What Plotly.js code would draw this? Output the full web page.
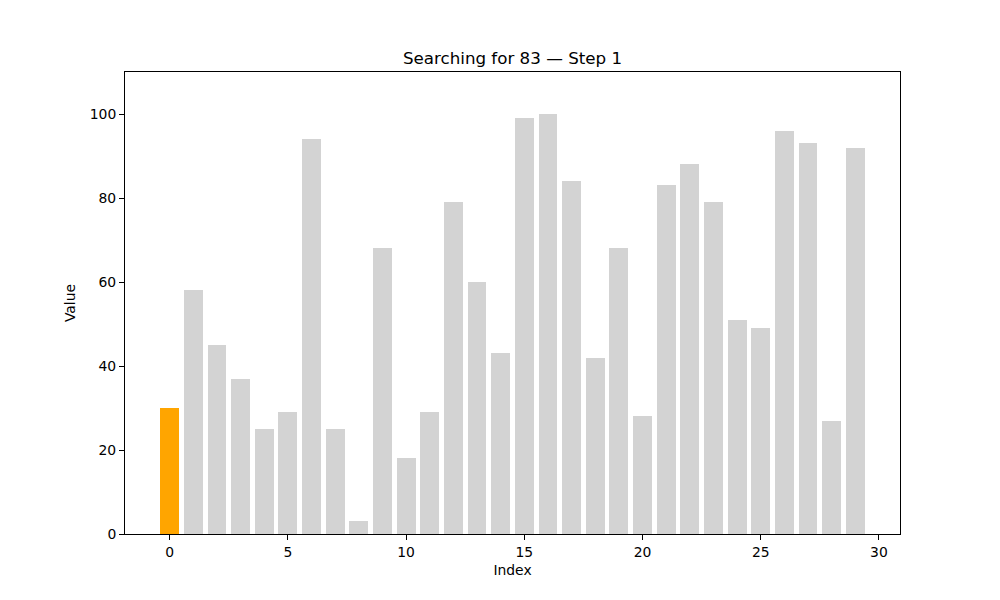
<!DOCTYPE html>
<html>
<head>
<meta charset="utf-8">
<script src="https://cdn.plot.ly/plotly-3.0.1.min.js"></script>
<style>html,body{margin:0;padding:0;background:#fff;}#chart{width:1000px;height:600px;}</style>
</head>
<body>
<div id="chart"></div>
<script>
const indices = [0,1,2,3,4,5,6,7,8,9,10,11,12,13,14,15,16,17,18,19,20,21,22,23,24,25,26,27,28,29];
const values = [30,58,45,37,25,29,94,25,3,68,18,29,79,60,43,99,100,84,42,68,28,83,88,79,51,49,96,93,27,92];
const highlightIndex = 0;
const target = 83;
const step = 1;
const xTicks = [0,5,10,15,20,25,30];
const yTicks = [0,20,40,60,80,100];

const colors = indices.map(i => i === highlightIndex ? '#ffa500' : '#d3d3d3');

const trace = {
  type: 'bar',
  x: indices,
  y: values,
  width: 0.8,
  marker: {color: colors, line: {width: 0}},
  hoverinfo: 'x+y'
};

const font = {family: 'DejaVu Sans, sans-serif', color: '#000'};

const layout = {
  width: 1000,
  height: 600,
  margin: {l: 125, r: 100, t: 72, b: 66},
  paper_bgcolor: '#fff',
  plot_bgcolor: '#fff',
  showlegend: false,
  font: Object.assign({size: 13.9}, font),
  title: {
    text: 'Searching for ' + target + ' — Step ' + step,
    font: Object.assign({size: 16.7}, font),
    x: 0.5125, xanchor: 'center',
    yref: 'container', y: 1 - 58/600, yanchor: 'middle'
  },
  xaxis: {
    range: [-1.89, 30.89],
    tickvals: xTicks,
    ticktext: xTicks.map(String),
    ticks: 'outside', ticklen: 5, tickwidth: 1, tickcolor: '#000',
    showline: true, linecolor: '#000', linewidth: 1, mirror: true,
    showgrid: false, zeroline: false,
    tickfont: Object.assign({size: 13.9}, font),
    title: {text: 'Index', font: Object.assign({size: 13.9}, font), standoff: 6}
  },
  yaxis: {
    range: [0, 110],
    tickvals: yTicks,
    ticktext: yTicks.map(String),
    ticks: 'outside', ticklen: 5, tickwidth: 1, tickcolor: '#000',
    showline: true, linecolor: '#000', linewidth: 1, mirror: true,
    showgrid: false, zeroline: false,
    tickfont: Object.assign({size: 13.9}, font),
    title: {text: 'Value', font: Object.assign({size: 13.9}, font), standoff: 10}
  },
  bargap: 0
};

Plotly.newPlot('chart', [trace], layout, {displayModeBar: false, staticPlot: true});
</script>
</body>
</html>
